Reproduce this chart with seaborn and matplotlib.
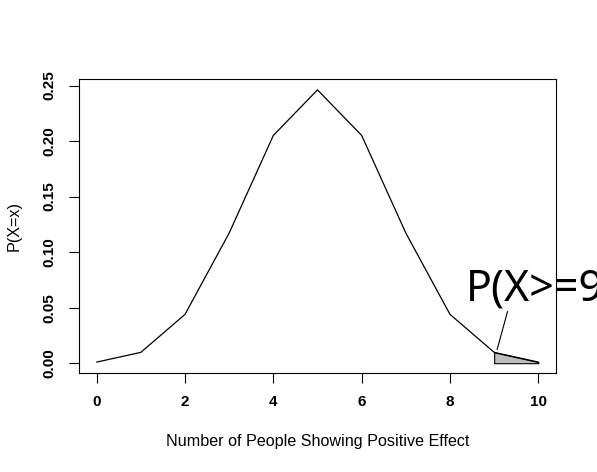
import seaborn as sns
import matplotlib.pyplot as plt
import pandas as pd

# Binomial(10, 0.5) probabilities
successes = [0, 1, 2, 3, 4, 5, 6, 7, 8, 9, 10]
probabilities = [0.000977, 0.009766, 0.043945, 0.117188, 0.205078, 0.246094,
                 0.205078, 0.117188, 0.043945, 0.009766, 0.000977]
x_ticks = [0, 2, 4, 6, 8, 10]
y_ticks = [0.00, 0.05, 0.10, 0.15, 0.20, 0.25]
tail_start = 9
label_text = "P(X>=9"

df = pd.DataFrame({"x": successes, "p": probabilities})
tail = df[df["x"] >= tail_start]

sns.set_theme(style="ticks")
plt.rcParams['font.family'] = ['Liberation Sans', 'DejaVu Sans']
plt.rcParams['text.color'] = 'black'
plt.rcParams['axes.labelcolor'] = 'black'
plt.rcParams['xtick.color'] = 'black'
plt.rcParams['ytick.color'] = 'black'

fig = plt.figure(figsize=(5.97, 4.72), dpi=100)
ax = fig.add_axes([79 / 597, 99 / 472, 477 / 597, 294 / 472])

sns.lineplot(data=df, x="x", y="p", color="black", linewidth=0.9, ax=ax)

# shaded upper tail
ax.fill_between(tail["x"], 0, tail["p"], facecolor="#bebebe",
                edgecolor="black", linewidth=0.8)

# R-style 4% padding on the axes
span_x = max(successes) - min(successes)
span_y = max(probabilities) - min(probabilities)
ax.set_xlim(min(successes) - 0.04 * span_x, max(successes) + 0.04 * span_x)
ax.set_ylim(min(probabilities) - 0.04 * span_y, max(probabilities) + 0.04 * span_y)

ax.set_xticks(x_ticks)
ax.set_xticklabels([str(t) for t in x_ticks], fontweight="bold", fontsize=11)
ax.set_yticks(y_ticks)
ax.set_yticklabels([f"{t:.2f}" for t in y_ticks], fontweight="bold", fontsize=11,
                   rotation=90, va="center")
ax.tick_params(axis="both", direction="out", length=7, width=0.8, color="black",
               labelcolor="black")
ax.tick_params(axis="x", pad=9)
ax.tick_params(axis="y", pad=9)

for side in ["left", "right", "top", "bottom"]:
    ax.spines[side].set_visible(True)
    ax.spines[side].set_color("black")
    ax.spines[side].set_linewidth(0.8)

ax.set_xlabel("")
ax.set_ylabel("")
fig.text(0.5 * (79 + 556) / 597, 1 - 441.5 / 472, "Number of People Showing Positive Effect",
         ha="center", va="center", fontsize=11.6, color="black")
fig.text(14 / 597, 1 - 226 / 472, "P(X=x)", rotation=90, ha="center", va="center",
         fontsize=11.6, color="black")

# annotation for the tail
ax.annotate("", xy=(9.05, 0.0099), xytext=(9.32, 0.049),
            arrowprops=dict(arrowstyle="-", color="black", linewidth=0.8))
ax.text(8.36, 0.0565, label_text, fontsize=31, family="Noto Sans", color="black",
        ha="left", va="baseline", clip_on=False)

fig.savefig("out.png", dpi=100)
